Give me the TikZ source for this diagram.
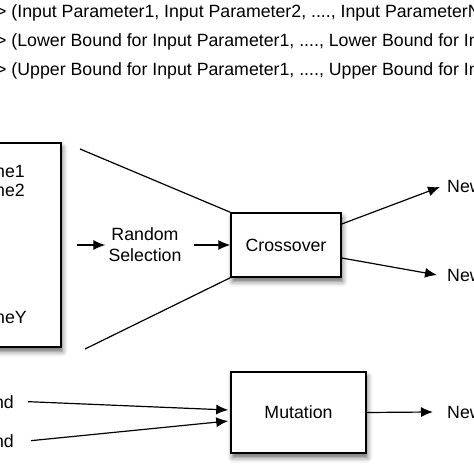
\documentclass[tikz,border=0pt]{standalone}
\usepackage{fontspec}
\setmainfont{Liberation Sans}
\usetikzlibrary{positioning,arrows.meta,shadows.blur}
\tikzset{
  box/.style={draw, line width=1.5bp, fill=white, inner sep=0pt,
    blur shadow={shadow xshift=1.5bp, shadow yshift=-4.5bp, shadow blur radius=5bp, shadow opacity=60}},
  flow/.style={line width=1.2bp, -{Latex[length=12bp,width=10bp]}},
  ln/.style={line width=1.2bp},
  lbl/.style={font=\fontsize{17.8}{21}\selectfont, inner sep=0pt},
}

\begin{document}
\begin{tikzpicture}[x=1bp, y=-1bp]
  \useasboundingbox (0,0) rectangle (474,474);
  \clip (0,0) rectangle (474,474);

  % parameter lines at the top
  \node[lbl, anchor=base west] (params) at (-4,18) {> (Input Parameter1, Input Parameter2, ...., Input ParameterN)};
  \node[lbl, anchor=base west] (lower) at (-4,47) {> (Lower Bound for Input Parameter1, ...., Lower Bound for Input ParameterN)};
  \node[lbl, anchor=base west] (upper) at (-4,76) {> (Upper Bound for Input Parameter1, ...., Upper Bound for Input ParameterN)};

  % population box (cut at the left)
  \node[box, minimum width=201bp, minimum height=204bp] (pool) at (-39.5,245) {};
  \node[lbl, anchor=base west] (g1) at (-5,178) {ne1};
  \node[lbl, anchor=base west] (g2) at (-5,197) {ne2};
  \node[lbl, anchor=base west] (gy) at (-5,323) {neY};

  % selection and crossover
  \node[lbl, align=center] (rs) at (145,245) {Random\\Selection};
  \node[box, lbl, minimum width=110bp, minimum height=64bp] (co) at (286,245) {Crossover};
  \node[lbl, anchor=base west] (newa) at (447,193) {New};
  \node[lbl, anchor=base west] (newb) at (447,281) {New};

  \coordinate (ftop) at (80,149);
  \coordinate (fbot) at (85,349);
  \draw[ln] (ftop) -- (co.north west);
  \draw[ln] (fbot) -- (co.south west);
  \draw[flow] ([xshift=15bp]pool.east) -- ([xshift=-3bp]rs.west);
  \draw[flow] ([xshift=12bp]rs.east) -- (co.west);
  \draw[flow] ([yshift=21bp]co.east) -- ([xshift=-7bp]newa.west);
  \draw[flow] ([yshift=-13bp]co.east) -- ([xshift=-10bp]newb.west);

  % mutation
  \node[box, lbl, minimum width=135bp, minimum height=81bp] (mu) at (298.5,412.5) {Mutation};
  \node[lbl, anchor=base east] (lb) at (14,408) {nd};
  \node[lbl, anchor=base east] (ub) at (14,447) {nd};
  \node[lbl, anchor=base west] (newc) at (447,418) {New};

  \draw[flow] ([xshift=14bp]lb.east) -- ([xshift=-2bp,yshift=2.5bp]mu.west);
  \draw[flow] ([xshift=17bp]ub.east) -- ([xshift=-2bp,yshift=-8.5bp]mu.west);
  \draw[flow] (mu.east) -- ([xshift=-14bp]newc.west);
\end{tikzpicture}
\end{document}
